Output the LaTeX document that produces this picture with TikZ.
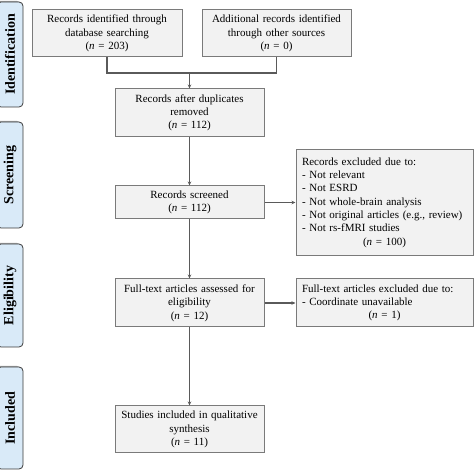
\documentclass[tikz,border=0pt]{standalone}
\usepackage{fontspec}
\setmainfont{Liberation Serif}
\usepackage{tikz}
\usetikzlibrary{arrows.meta,shadows}

\definecolor{boxfill}{HTML}{F2F2F2}
\definecolor{boxline}{HTML}{7A7A7A}
\definecolor{phasefill}{HTML}{D9EAF8}
\definecolor{phaseline}{HTML}{3A3A3A}
\definecolor{linkgray}{HTML}{5A5A5A}

\begin{document}
\begin{tikzpicture}[x=1pt, y=1pt, thick,
    font=\fontsize{11}{13.3}\selectfont,
    main/.style = {draw=boxline, fill=boxfill, line width=1pt, minimum width=149pt, text width=145pt, align=center, inner sep=0pt},
    side/.style = {draw=boxline, fill=boxfill, line width=1pt, minimum width=177pt, text width=165pt, align=left, inner sep=0pt},
    phase/.style = {draw=phaseline, fill=phasefill, line width=0.8pt, rotate=90, rounded corners=4pt, minimum height=26pt, font=\fontsize{14}{16}\selectfont\bfseries, drop shadow={shadow xshift=-2pt, shadow yshift=1pt, fill=gray!70, opacity=1}},
    link/.style = {draw=linkgray, line width=1.1pt},
    >={Stealth[length=4pt, width=3.5pt]}]
            \useasboundingbox (0,0) rectangle (474,474);

            % phases
            \node[phase, minimum width=105pt] (ident) at (10,419.5) {Identification};
            \node[phase, minimum width=106pt] (screen) at (10,299) {Screening};
            \node[phase, minimum width=103pt] (elig) at (10,178.5) {Eligibility};
            \node[phase, minimum width=102pt] (incl) at (10,56) {Included};

            % main column
            \node[main, minimum width=150pt, minimum height=47pt] (1) at (107,440.5) {Records identified through\\database searching\\(\textit{n} = 203)};
            \node[main, minimum height=47pt] (2) at (276.5,440.5) {Additional records identified\\through other sources\\(\textit{n} = 0)};
            \node[main, minimum height=48pt] (3) at (189.5,361) {Records after duplicates\\removed\\(\textit{n} = 112)};
            \node[main, minimum height=33pt] (4) [below of=3, node distance=89.5pt] {Records screened\\(\textit{n} = 112)};
            \node[main, minimum height=48pt] (5) [below of=4, node distance=100.5pt] {Full-text articles assessed for\\eligibility\\(\textit{n} = 12)};
            \node[main, minimum height=47pt] (6) [below of=5, node distance=126.5pt] {Studies included in qualitative\\synthesis\\(\textit{n} = 11)};

            % exclusions
            \node[side, minimum height=106pt] (7) [right of=4, node distance=195pt] {Records excluded due to:\\- Not relevant\\- Not ESRD\\- Not whole-brain analysis\\- Not original articles (e.g., review)\\- Not rs-fMRI studies\\\makebox[165pt]{(\textit{n} = 100)}};
            \node[side, minimum height=48pt] (8) [right of=5, node distance=195pt] {Full-text articles excluded due to:\\- Coordinate unavailable\\\makebox[165pt]{(\textit{n} = 1)}};

            \coordinate (j) at (189.5,401);
            \draw[link] (1.south) |- (j);
            \draw[link] (2.south) |- (j);
            \path (j) edge[link, ->] node {} (3);
            \path (3) edge[link, ->] node {} (4);
            \path (4) edge[link, ->] node {} (5);
            \path (5) edge[link, ->] node {} (6);
            \path (4) edge[link, ->] node {} (7);
            \path (5) edge[link, ->] node {} (8);
        \end{tikzpicture}
\end{document}
